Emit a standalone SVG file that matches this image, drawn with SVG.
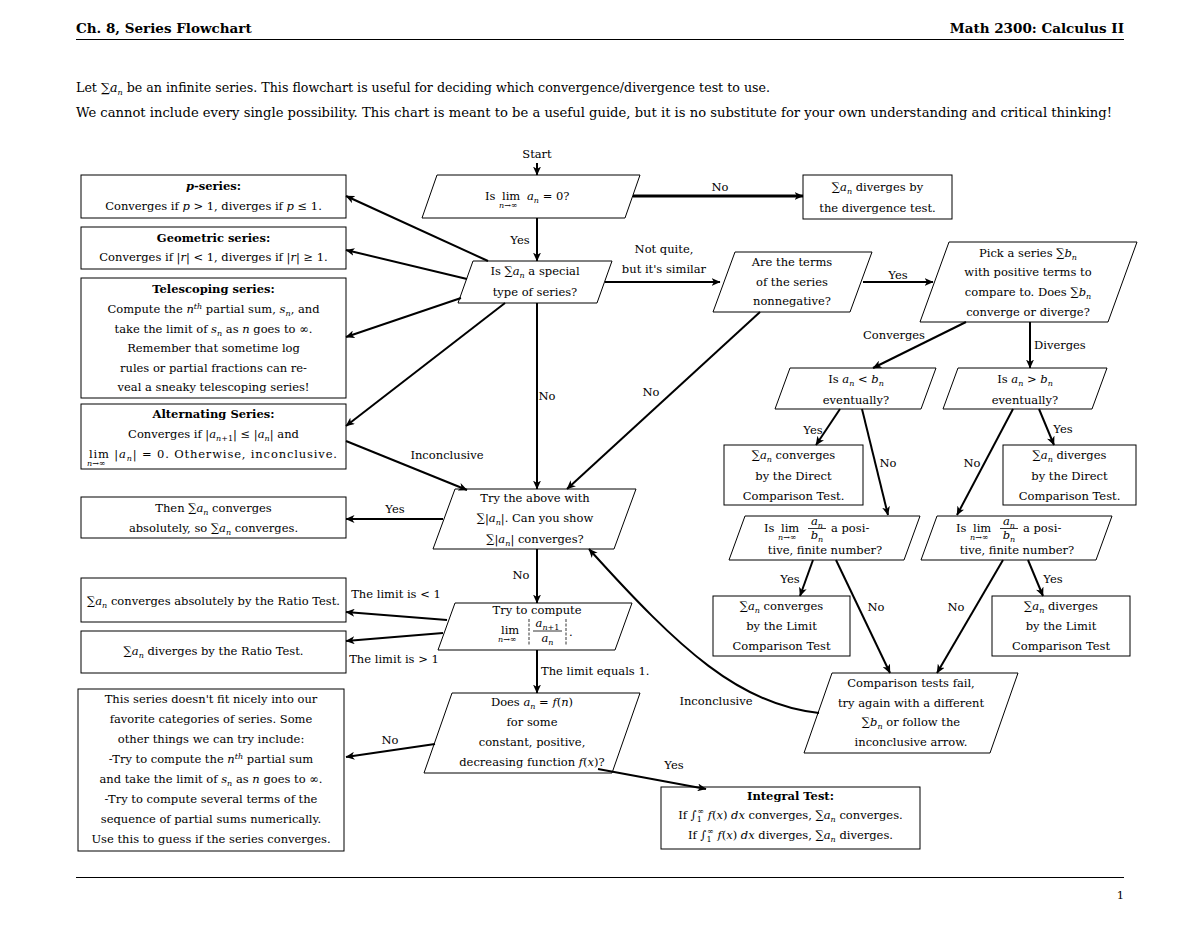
<svg xmlns="http://www.w3.org/2000/svg" width="1200" height="927" viewBox="0 0 1200 927">
<defs>
<marker id="ah" markerUnits="userSpaceOnUse" markerWidth="9" markerHeight="8" viewBox="0 0 9 8" refX="8.5" refY="4" orient="auto">
<path d="M0,0 L9,4 L0,8 L2.5,4 z" fill="#000"/>
</marker>
<style>
text{font-family:"DejaVu Serif","Liberation Serif",serif;font-size:11.5px;fill:#000}
.c{text-anchor:middle}
.e{text-anchor:end}
.i{font-style:italic}
.b{font-weight:bold}
.sb{font-size:8px}
.h{font-size:13.5px;font-weight:bold}
.t{font-size:12.5px}
.n rect,.n polygon{fill:#fff;stroke:#000;stroke-width:1}
.ed line,.ed path{fill:none;stroke:#000;stroke-width:2;marker-end:url(#ah)}
.rule{stroke:#000;stroke-width:1}
.fr{stroke:#000;stroke-width:0.8}
</style>
</defs>
<rect width="1200" height="927" fill="#fff"/>
<g id="page">
<text x="76" y="33" class="h">Ch. 8, Series Flowchart</text>
<text x="1124" y="33" class="h e">Math 2300: Calculus II</text>
<line class="rule" x1="76" y1="39.5" x2="1124" y2="39.5"/>
<text x="76" y="92" class="t" textLength="694" lengthAdjust="spacingAndGlyphs">Let ∑<tspan class="i">a</tspan><tspan class="sb i" dy="2.5">n</tspan><tspan dy="-2.5"> be an infinite series. This flowchart is useful for deciding which convergence/divergence test to use.</tspan></text>
<text x="76" y="117" class="t" textLength="1036" lengthAdjust="spacingAndGlyphs">We cannot include every single possibility. This chart is meant to be a useful guide, but it is no substitute for your own understanding and critical thinking!</text>
<line class="rule" x1="76" y1="877.5" x2="1124" y2="877.5"/>
<text x="1124" y="899" class="e">1</text>
</g>

<g id="p-series" class="n">
<rect x="81" y="175" width="265" height="43"/>
<text class="c b" x="213.5" y="190"><tspan class="i">p</tspan>-series:</text>
<text class="c" x="213.5" y="210">Converges if <tspan class="i">p</tspan> &gt; 1, diverges if <tspan class="i">p</tspan> ≤ 1.</text>
</g>
<g id="geometric" class="n">
<rect x="81" y="227" width="265" height="42"/>
<text class="c b" x="213.5" y="242">Geometric series:</text>
<text class="c" x="213.5" y="261">Converges if |<tspan class="i">r</tspan>| &lt; 1, diverges if |<tspan class="i">r</tspan>| ≥ 1.</text>
</g>
<g id="telescoping" class="n">
<rect x="81" y="278" width="265" height="120"/>
<text class="c b" x="213.5" y="293">Telescoping series:</text>
<text class="c" x="213.5" y="313">Compute the <tspan class="i">n</tspan><tspan class="sb i" dy="-4.5">th</tspan><tspan dy="4.5"> partial sum, </tspan><tspan class="i">s</tspan><tspan class="sb i" dy="2.5">n</tspan><tspan dy="-2.5">, and</tspan></text>
<text class="c" x="213.5" y="333">take the limit of <tspan class="i">s</tspan><tspan class="sb i" dy="2.5">n</tspan><tspan dy="-2.5"> as </tspan><tspan class="i">n</tspan> goes to ∞.</text>
<text class="c" x="213.5" y="352">Remember that sometime log</text>
<text class="c" x="213.5" y="372">rules or partial fractions can re-</text>
<text class="c" x="213.5" y="391">veal a sneaky telescoping series!</text>
</g>
<g id="alternating" class="n">
<rect x="81" y="404" width="265" height="65"/>
<text class="c b" x="213.5" y="418">Alternating Series:</text>
<text class="c" x="213.5" y="438">Converges if |<tspan class="i">a</tspan><tspan class="sb" dy="2.5"><tspan class="i">n</tspan>+1</tspan><tspan dy="-2.5">|  ≤  |</tspan><tspan class="i">a</tspan><tspan class="sb i" dy="2.5">n</tspan><tspan dy="-2.5">| and</tspan></text>
<text x="89" y="458" textLength="248" lengthAdjust="spacing">lim |<tspan class="i">a</tspan><tspan class="sb i" dy="2.5">n</tspan><tspan dy="-2.5">| = 0. Otherwise, inconclusive.</tspan></text>
<text class="sb" x="87" y="466"><tspan class="i">n</tspan>→∞</text>
</g>
<g id="abs-conv" class="n">
<rect x="81" y="497" width="265" height="41"/>
<text class="c" x="213.5" y="512">Then ∑<tspan class="i">a</tspan><tspan class="sb i" dy="2.5">n</tspan><tspan dy="-2.5"> converges</tspan></text>
<text class="c" x="213.5" y="532">absolutely, so ∑<tspan class="i">a</tspan><tspan class="sb i" dy="2.5">n</tspan><tspan dy="-2.5"> converges.</tspan></text>
</g>
<g id="ratio-conv" class="n">
<rect x="81" y="578" width="265" height="44"/>
<text class="c" x="213.5" y="605">∑<tspan class="i">a</tspan><tspan class="sb i" dy="2.5">n</tspan><tspan dy="-2.5"> converges absolutely by the Ratio Test.</tspan></text>
</g>
<g id="ratio-div" class="n">
<rect x="81" y="631" width="265" height="42"/>
<text class="c" x="213.5" y="655">∑<tspan class="i">a</tspan><tspan class="sb i" dy="2.5">n</tspan><tspan dy="-2.5"> diverges by the Ratio Test.</tspan></text>
</g>
<g id="other" class="n">
<rect x="78" y="689" width="266" height="162"/>
<text class="c" x="211" y="703">This series doesn't fit nicely into our</text>
<text class="c" x="211" y="723">favorite categories of series. Some</text>
<text class="c" x="211" y="743">other things we can try include:</text>
<text class="c" x="211" y="763">-Try to compute the <tspan class="i">n</tspan><tspan class="sb i" dy="-4.5">th</tspan><tspan dy="4.5"> partial sum</tspan></text>
<text class="c" x="211" y="783">and take the limit of <tspan class="i">s</tspan><tspan class="sb i" dy="2.5">n</tspan><tspan dy="-2.5"> as </tspan><tspan class="i">n</tspan> goes to ∞.</text>
<text class="c" x="211" y="803">-Try to compute several terms of the</text>
<text class="c" x="211" y="823">sequence of partial sums numerically.</text>
<text class="c" x="211" y="843">Use this to guess if the series converges.</text>
</g>

<g id="start">
<text class="c" x="537" y="158">Start</text>
</g>
<g id="limit-zero" class="n">
<polygon points="437,175 640,175 625,218 422,218"/>
<text x="485" y="200">Is</text>
<text x="502" y="200">lim</text>
<text class="sb" x="499" y="208"><tspan class="i">n</tspan>→∞</text>
<text x="527" y="200"><tspan class="i">a</tspan><tspan class="sb i" dy="2.5">n</tspan><tspan dy="-2.5"> = 0?</tspan></text>
</g>
<g id="diverge-test" class="n">
<rect x="803" y="175" width="149" height="44"/>
<text class="c" x="877.5" y="191">∑<tspan class="i">a</tspan><tspan class="sb i" dy="2.5">n</tspan><tspan dy="-2.5"> diverges by</tspan></text>
<text class="c" x="877.5" y="212">the divergence test.</text>
</g>
<g id="special" class="n">
<polygon points="473,261 612,261 597,303 458,303"/>
<text class="c" x="535" y="275">Is ∑<tspan class="i">a</tspan><tspan class="sb i" dy="2.5">n</tspan><tspan dy="-2.5"> a special</tspan></text>
<text class="c" x="535" y="296">type of series?</text>
</g>
<g id="nonneg" class="n">
<polygon points="735,252 872,252 850,312 713,312"/>
<text class="c" x="792" y="266">Are the terms</text>
<text class="c" x="792" y="286">of the series</text>
<text class="c" x="792" y="305">nonnegative?</text>
</g>
<g id="pick-bn" class="n">
<polygon points="949,242 1137,242 1108,322 920,322"/>
<text class="c" x="1028" y="257">Pick a series ∑<tspan class="i">b</tspan><tspan class="sb i" dy="2.5">n</tspan></text>
<text class="c" x="1028" y="276">with positive terms to</text>
<text class="c" x="1028" y="296">compare to. Does ∑<tspan class="i">b</tspan><tspan class="sb i" dy="2.5">n</tspan></text>
<text class="c" x="1028" y="316">converge or diverge?</text>
</g>
<g id="less" class="n">
<polygon points="790,368 936,368 921,409 775,409"/>
<text class="c" x="856" y="383">Is <tspan class="i">a</tspan><tspan class="sb i" dy="2.5">n</tspan><tspan dy="-2.5">  &lt;  </tspan><tspan class="i">b</tspan><tspan class="sb i" dy="2.5">n</tspan></text>
<text class="c" x="856" y="404">eventually?</text>
</g>
<g id="greater" class="n">
<polygon points="958,368 1107,368 1092,409 943,409"/>
<text class="c" x="1025" y="383">Is <tspan class="i">a</tspan><tspan class="sb i" dy="2.5">n</tspan><tspan dy="-2.5">  &gt;  </tspan><tspan class="i">b</tspan><tspan class="sb i" dy="2.5">n</tspan></text>
<text class="c" x="1025" y="404">eventually?</text>
</g>
<g id="dct-conv" class="n">
<rect x="724" y="445" width="139" height="60"/>
<text class="c" x="793.5" y="459">∑<tspan class="i">a</tspan><tspan class="sb i" dy="2.5">n</tspan><tspan dy="-2.5"> converges</tspan></text>
<text class="c" x="793.5" y="480">by the Direct</text>
<text class="c" x="793.5" y="500">Comparison Test.</text>
</g>
<g id="dct-div" class="n">
<rect x="1003" y="445" width="133" height="60"/>
<text class="c" x="1069.5" y="459">∑<tspan class="i">a</tspan><tspan class="sb i" dy="2.5">n</tspan><tspan dy="-2.5"> diverges</tspan></text>
<text class="c" x="1069.5" y="480">by the Direct</text>
<text class="c" x="1069.5" y="500">Comparison Test.</text>
</g>
<g id="lct-q1" class="n">
<polygon points="745,516 920,516 904,560 729,560"/>
<text x="764" y="532">Is</text>
<text x="781" y="532">lim</text>
<text class="sb" x="778" y="540"><tspan class="i">n</tspan>→∞</text>
<text class="c" x="817" y="525"><tspan class="i">a</tspan><tspan class="sb i" dy="2.5">n</tspan></text>
<line class="fr" x1="808" y1="528.5" x2="826" y2="528.5"/>
<text class="c" x="817" y="539"><tspan class="i">b</tspan><tspan class="sb i" dy="2.5">n</tspan></text>
<text x="831" y="532">a posi-</text>
<text class="c" x="825" y="554">tive, finite number?</text>
</g>
<g id="lct-q2" class="n">
<polygon points="937,516 1112,516 1096,560 921,560"/>
<text x="956" y="532">Is</text>
<text x="973" y="532">lim</text>
<text class="sb" x="970" y="540"><tspan class="i">n</tspan>→∞</text>
<text class="c" x="1009" y="525"><tspan class="i">a</tspan><tspan class="sb i" dy="2.5">n</tspan></text>
<line class="fr" x1="1000" y1="528.5" x2="1018" y2="528.5"/>
<text class="c" x="1009" y="539"><tspan class="i">b</tspan><tspan class="sb i" dy="2.5">n</tspan></text>
<text x="1023" y="532">a posi-</text>
<text class="c" x="1017" y="554">tive, finite number?</text>
</g>
<g id="lct-conv" class="n">
<rect x="713" y="596" width="137" height="60"/>
<text class="c" x="781.5" y="610">∑<tspan class="i">a</tspan><tspan class="sb i" dy="2.5">n</tspan><tspan dy="-2.5"> converges</tspan></text>
<text class="c" x="781.5" y="630">by the Limit</text>
<text class="c" x="781.5" y="650">Comparison Test</text>
</g>
<g id="lct-div" class="n">
<rect x="992" y="596" width="138" height="60"/>
<text class="c" x="1061" y="610">∑<tspan class="i">a</tspan><tspan class="sb i" dy="2.5">n</tspan><tspan dy="-2.5"> diverges</tspan></text>
<text class="c" x="1061" y="630">by the Limit</text>
<text class="c" x="1061" y="650">Comparison Test</text>
</g>
<g id="comp-fail" class="n">
<polygon points="832,673 1018,673 990,753 804,753"/>
<text class="c" x="911" y="687">Comparison tests fail,</text>
<text class="c" x="911" y="707">try again with a different</text>
<text class="c" x="911" y="726">∑<tspan class="i">b</tspan><tspan class="sb i" dy="2.5">n</tspan><tspan dy="-2.5"> or follow the</tspan></text>
<text class="c" x="911" y="746">inconclusive arrow.</text>
</g>
<g id="abs-try" class="n">
<polygon points="455,489 636,489 614,549 433,549"/>
<text class="c" x="535" y="502">Try the above with</text>
<text class="c" x="535" y="522">∑|<tspan class="i">a</tspan><tspan class="sb i" dy="2.5">n</tspan><tspan dy="-2.5">|.  Can you show</tspan></text>
<text class="c" x="535" y="543">∑|<tspan class="i">a</tspan><tspan class="sb i" dy="2.5">n</tspan><tspan dy="-2.5">| converges?</tspan></text>
</g>
<g id="ratio" class="n">
<polygon points="455,603 632,603 615,650 438,650"/>
<text class="c" x="537" y="614">Try to compute</text>
<text x="501" y="634">lim</text>
<text class="sb" x="498" y="642"><tspan class="i">n</tspan>→∞</text>
<line class="fr" x1="529" y1="619" x2="529" y2="646" stroke-dasharray="3,1.5"/>
<line class="fr" x1="566" y1="619" x2="566" y2="646" stroke-dasharray="3,1.5"/>
<text class="c" x="547.5" y="627"><tspan class="i">a</tspan><tspan class="sb" dy="2.5"><tspan class="i">n</tspan>+1</tspan></text>
<line class="fr" x1="533" y1="631" x2="562" y2="631"/>
<text class="c" x="547.5" y="642"><tspan class="i">a</tspan><tspan class="sb i" dy="2.5">n</tspan></text>
<text x="569" y="636">.</text>
</g>
<g id="integral-q" class="n">
<polygon points="452,693 640,693 612,773 424,773"/>
<text class="c" x="532" y="706">Does <tspan class="i">a</tspan><tspan class="sb i" dy="2.5">n</tspan><tspan dy="-2.5">  =  </tspan><tspan class="i">f</tspan>(<tspan class="i">n</tspan>)</text>
<text class="c" x="532" y="726">for some</text>
<text class="c" x="532" y="746">constant, positive,</text>
<text class="c" x="532" y="766">decreasing function <tspan class="i">f</tspan>(<tspan class="i">x</tspan>)?</text>
</g>
<g id="integral-test" class="n">
<rect x="661" y="787" width="259" height="62"/>
<text class="c b" x="790.5" y="800">Integral Test:</text>
<text class="c" x="790.5" y="819">If ∫<tspan class="sb" dy="2.5">1</tspan><tspan class="sb" dx="-4.5" dy="-8">∞</tspan><tspan dy="5.5"> </tspan><tspan class="i">f</tspan>(<tspan class="i">x</tspan>) <tspan class="i">dx</tspan> converges, ∑<tspan class="i">a</tspan><tspan class="sb i" dy="2.5">n</tspan><tspan dy="-2.5"> converges.</tspan></text>
<text class="c" x="790.5" y="839">If ∫<tspan class="sb" dy="2.5">1</tspan><tspan class="sb" dx="-4.5" dy="-8">∞</tspan><tspan dy="5.5"> </tspan><tspan class="i">f</tspan>(<tspan class="i">x</tspan>) <tspan class="i">dx</tspan> diverges, ∑<tspan class="i">a</tspan><tspan class="sb i" dy="2.5">n</tspan><tspan dy="-2.5"> diverges.</tspan></text>
</g>

<g id="connectors" class="ed">
<line x1="537" y1="163" x2="537" y2="175"/>
<line x1="633" y1="196" x2="803" y2="196" style="stroke-width:3"/>
<text class="c" x="720" y="191">No</text>
<line x1="537" y1="218" x2="537" y2="261"/>
<text class="c" x="520" y="244">Yes</text>
<line x1="488" y1="261" x2="346" y2="196"/>
<line x1="467" y1="279" x2="346" y2="250"/>
<line x1="461" y1="298" x2="346" y2="337"/>
<line x1="505" y1="303" x2="346" y2="426"/>
<line x1="605" y1="282" x2="720" y2="282"/>
<text class="c" x="664" y="253">Not quite,</text>
<text class="c" x="664" y="273">but it's similar</text>
<line x1="537" y1="303" x2="537" y2="489"/>
<text class="c" x="547" y="400">No</text>
<line x1="760" y1="312" x2="567" y2="489"/>
<text class="c" x="651" y="396">No</text>
<line x1="863" y1="282" x2="933" y2="282"/>
<text class="c" x="898" y="279">Yes</text>
<line x1="966" y1="322" x2="873" y2="368"/>
<text class="c" x="894" y="339">Converges</text>
<line x1="1030" y1="322" x2="1030" y2="368"/>
<text x="1034" y="349">Diverges</text>
<line x1="840" y1="409" x2="816" y2="445"/>
<text class="c" x="813" y="434">Yes</text>
<line x1="862" y1="409" x2="888" y2="515"/>
<text class="c" x="888" y="467">No</text>
<line x1="1013" y1="409" x2="957" y2="515"/>
<text class="c" x="972" y="467">No</text>
<line x1="1039" y1="409" x2="1054" y2="445"/>
<text class="c" x="1063" y="433">Yes</text>
<line x1="813" y1="560" x2="800" y2="596"/>
<text class="c" x="790" y="583">Yes</text>
<line x1="836" y1="560" x2="890" y2="673"/>
<text class="c" x="876" y="611">No</text>
<line x1="1003" y1="560" x2="937" y2="673"/>
<text class="c" x="956" y="611">No</text>
<line x1="1028" y1="560" x2="1043" y2="596"/>
<text class="c" x="1053" y="583">Yes</text>
<line x1="346" y1="441" x2="467" y2="490"/>
<text class="c" x="447" y="459">Inconclusive</text>
<line x1="443" y1="519" x2="346" y2="519"/>
<text class="c" x="395" y="513">Yes</text>
<line x1="537" y1="549" x2="537" y2="603"/>
<text class="c" x="521" y="579">No</text>
<line x1="447" y1="620" x2="346" y2="612"/>
<text class="c" x="396" y="598">The limit is &lt; 1</text>
<line x1="443" y1="633" x2="346" y2="641"/>
<text class="c" x="394" y="663">The limit is &gt; 1</text>
<line x1="537" y1="650" x2="537" y2="693"/>
<text x="541" y="675">The limit equals 1.</text>
<line x1="435" y1="744" x2="346" y2="757"/>
<text class="c" x="390" y="744">No</text>
<line x1="598" y1="769" x2="706" y2="789"/>
<text class="c" x="674" y="769">Yes</text>
<path d="M819,713 C740,705 680,650 589,549"/>
<text class="c" x="716" y="705">Inconclusive</text>
</g>
</svg>
